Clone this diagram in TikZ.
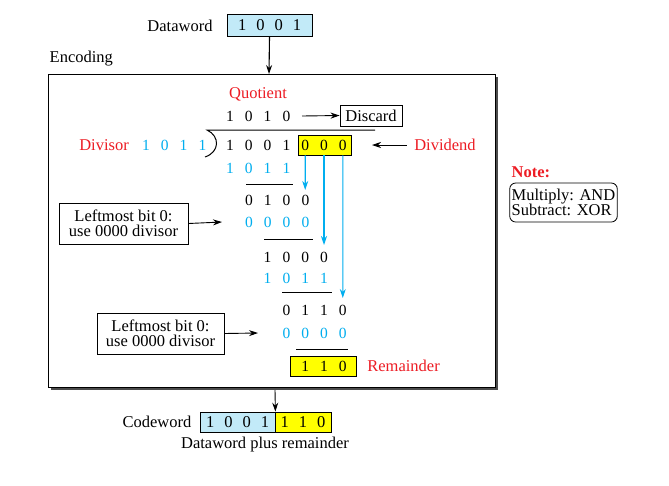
\documentclass[tikz,border=0pt]{standalone}
\usepackage{fontspec}
\setmainfont{Liberation Serif}
\usetikzlibrary{arrows.meta}
\definecolor{cb}{HTML}{00AEEF}
\definecolor{rd}{HTML}{ED1C24}
\definecolor{lb}{HTML}{C2EAF8}
\definecolor{yl}{HTML}{FFFF00}
\begin{document}
\begin{tikzpicture}[x=1pt,y=-1pt,font=\fontsize{16.5}{18}\selectfont,line width=0.8pt,
  arr/.style={-{Stealth[length=9pt,width=6pt]},black,line width=0.9pt},
  barr/.style={-{Stealth[length=9pt,width=6pt]},cb,line width=1.1pt},
  dig/.style={inner sep=0pt,anchor=center,font=\fontsize{15.5}{17}\selectfont},
  lab/.style={inner sep=1pt,text=rd},
  bx/.style={draw,inner sep=0pt,line width=0.8pt}]
\useasboundingbox (0,0) rectangle (669,485);
% dataword
\node (dwl) at (180,26) {Dataword};
\node[bx,fill=lb,minimum width=85pt,minimum height=22pt] (dw) at (269.5,25.5) {1\hspace{10pt}0\hspace{10pt}0\hspace{10pt}1};
\node[anchor=west] (enc) at (46,59) {Encoding};
% main box with shadow
\fill[black!70] (51,77) rectangle (498,390);
\node[draw,fill=white,line width=0.8pt,minimum width=447pt,minimum height=313pt] (mb) at (271.5,230.5) {};
\coordinate (mbt) at (269,74);
\draw[arr,line width=1.1pt] (dw.south) -- (mbt);
% quotient
\node[lab] (q) at (258,94) {Quotient};
\foreach \d [count=\i] in {1,0,1,0} \node[dig] (q\i) at ({230+18.8*(\i-1)},116) {\d};
\node[bx,minimum width=62pt,minimum height=21pt] (disc) at (371,115.5) {Discard};
\draw[arr] (302,116) -- (disc.west);
% division
\draw[line width=1pt] (375,130) -- (207,130) .. controls (220,136) and (220,152) .. (205,157);
\node[lab] (dv) at (104,145) {Divisor};
\foreach \d [count=\i] in {1,0,1,1} \node[dig,text=cb] (v\i) at ({146+18.8*(\i-1)},145) {\d};
\node[bx,fill=yl,minimum width=53pt,minimum height=20pt] (yb) at (324.5,145) {};
\foreach \d [count=\i] in {1,0,0,1,0,0,0} \node[dig] (n\i) at ({230+18.8*(\i-1)},145) {\d};
\node[lab] (dd) at (445,145) {Dividend};
\draw[arr] (dd.west) ++(-6,0) coordinate (dda) -- (372,145);
% steps
\foreach \d [count=\i] in {1,0,1,1} \node[dig,text=cb] at ({230+18.8*(\i-1)},168) {\d};
\draw (246,184) -- (293,184);
\foreach \d [count=\i] in {0,1,0,0} \node[dig] at ({249+18.8*(\i-1)},200) {\d};
\foreach \d [count=\i] in {0,0,0,0} \node[dig,text=cb] (s2\i) at ({249+18.8*(\i-1)},222) {\d};
\draw (264,239) -- (313,239);
\foreach \d [count=\i] in {1,0,0,0} \node[dig] at ({267.6+18.8*(\i-1)},257) {\d};
\foreach \d [count=\i] in {1,0,1,1} \node[dig,text=cb] at ({267.6+18.8*(\i-1)},278) {\d};
\draw (282,292) -- (332,292);
\foreach \d [count=\i] in {0,1,1,0} \node[dig] at ({286.4+18.8*(\i-1)},310) {\d};
\foreach \d [count=\i] in {0,0,0,0} \node[dig,text=cb] (s4\i) at ({286.4+18.8*(\i-1)},333) {\d};
\draw (296,349) -- (348,349);
\node[bx,fill=yl,minimum width=66pt,minimum height=20pt] (rb) at (323,366) {};
\foreach \d [count=\i] in {1,1,0} \node[dig] at ({305.2+18.8*(\i-1)},366) {\d};
\node[lab,anchor=west] (rl) at (366,366) {Remainder};
% blue arrows
\draw[barr] (n5 |- yb.south) -- (305.2,190);
\draw[barr] (n6 |- yb.south) -- (324,245);
\draw[barr] (n7 |- yb.south) -- (342.8,298);
% left boxes
\node[bx,align=center,minimum width=129pt,minimum height=41pt] (l1) at (123.5,223.5) {Leftmost bit 0:\\[-3pt]use 0000 divisor};
\node[bx,align=center,minimum width=127pt,minimum height=41pt] (l2) at (160.5,333.5) {Leftmost bit 0:\\[-3pt]use 0000 divisor};
\coordinate (a1) at (222,222);
\coordinate (a2) at (258,333);
\draw[arr] (l1.east) -- (a1);
\draw[arr] (l2.east) -- (a2);
% note
\node[text=rd,font=\fontsize{16.5}{18}\selectfont\bfseries,anchor=west] (nt) at (508,172) {Note:};
\node[draw,rounded corners=6pt,align=left,inner sep=2pt,minimum height=39pt,line width=0.8pt] (nb) at (563.5,202.5) {Multiply: AND\\[-3pt]Subtract: XOR};
% codeword
\node[bx,fill=lb,minimum width=75pt,minimum height=20pt] (cw1) at (237.5,422) {1\hspace{10pt}0\hspace{10pt}0\hspace{10pt}1};
\node[bx,fill=yl,minimum width=56pt,minimum height=20pt] (cw2) at (303,422) {1\hspace{10pt}1\hspace{10pt}0};
\node (cwl) at (157,422) {Codeword};
\node (dpr) at (265,445) {Dataword plus remainder};
\coordinate (mbb) at (275,390);
\draw[arr] (mbb) -- (cw1.north east);
\end{tikzpicture}
\end{document}
